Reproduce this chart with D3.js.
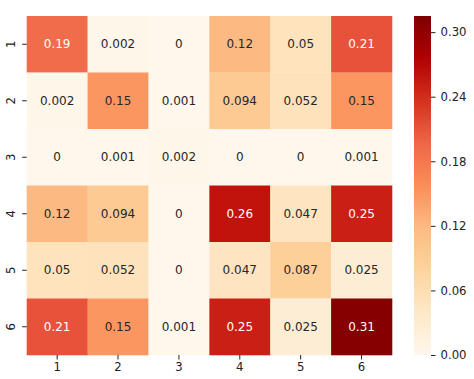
<!DOCTYPE html>
<html>
<head>
<meta charset="utf-8">
<script src="https://cdn.jsdelivr.net/npm/d3@7"></script>
<style>
  html, body { margin: 0; padding: 0; background: #fff; }
  svg { display: block; font-family: "DejaVu Sans", sans-serif; }
</style>
</head>
<body>
<svg id="chart" width="474" height="379"></svg>
<script>
const rowLabels = ["1", "2", "3", "4", "5", "6"];
const colLabels = ["1", "2", "3", "4", "5", "6"];
const row1 = [0.19, 0.002, 0, 0.12, 0.05, 0.21];
const row2 = [0.002, 0.15, 0.001, 0.094, 0.052, 0.15];
const row3 = [0, 0.001, 0.002, 0, 0, 0.001];
const row4 = [0.12, 0.094, 0, 0.26, 0.047, 0.25];
const row5 = [0.05, 0.052, 0, 0.047, 0.087, 0.025];
const row6 = [0.21, 0.15, 0.001, 0.25, 0.025, 0.31];
const labels1 = ["0.19", "0.002", "0", "0.12", "0.05", "0.21"];
const labels2 = ["0.002", "0.15", "0.001", "0.094", "0.052", "0.15"];
const labels3 = ["0", "0.001", "0.002", "0", "0", "0.001"];
const labels4 = ["0.12", "0.094", "0", "0.26", "0.047", "0.25"];
const labels5 = ["0.05", "0.052", "0", "0.047", "0.087", "0.025"];
const labels6 = ["0.21", "0.15", "0.001", "0.25", "0.025", "0.31"];
const colorMin = 0;
const colorMax = 0.315;
const colorbarTicks = [0.00, 0.06, 0.12, 0.18, 0.24, 0.30];
const orrd = ["#fff7ec", "#fee8c8", "#fdd49e", "#fdbb84", "#fc8d59", "#ef6548", "#d7301f", "#b30000", "#7f0000"];

const rows = [row1, row2, row3, row4, row5, row6];
const labelRows = [labels1, labels2, labels3, labels4, labels5, labels6];

const svg = d3.select("#chart");
const pLeft = 26.7, pRight = 392, pTop = 16, pBottom = 355;

const x = d3.scaleBand().domain(colLabels).range([pLeft, pRight]).padding(0);
const y = d3.scaleBand().domain(rowLabels).range([pTop, pBottom]).padding(0);

const cmapT = d3.scaleLinear()
  .domain(orrd.map((_, i) => i / (orrd.length - 1)))
  .range(orrd)
  .interpolate(d3.interpolateRgb)
  .clamp(true);
const norm = d3.scaleLinear().domain([colorMin, colorMax]).range([0, 1]).clamp(true);
const color = v => cmapT(norm(v));

function luminance(c) {
  const rgb = d3.rgb(c);
  const f = v => { v = v / 255; return v <= 0.03928 ? v / 12.92 : Math.pow((v + 0.055) / 1.055, 2.4); };
  return 0.2126 * f(rgb.r) + 0.7152 * f(rgb.g) + 0.0722 * f(rgb.b);
}

const cells = [];
rows.forEach((r, i) => r.forEach((v, j) => cells.push({ r: rowLabels[i], c: colLabels[j], v, t: labelRows[i][j] })));

svg.append("g").selectAll("rect").data(cells).join("rect")
  .attr("x", d => x(d.c))
  .attr("y", d => y(d.r))
  .attr("width", x.bandwidth() + 0.3)
  .attr("height", y.bandwidth() + 0.3)
  .attr("fill", d => color(d.v));

svg.append("g").selectAll("text").data(cells).join("text")
  .attr("x", d => x(d.c) + x.bandwidth() / 2)
  .attr("y", d => y(d.r) + y.bandwidth() / 2)
  .attr("text-anchor", "middle")
  .attr("dominant-baseline", "central")
  .attr("font-size", "12px")
  .attr("fill", d => luminance(color(d.v)) > 0.408 ? "#262626" : "#ffffff")
  .text(d => d.t);

// X axis
const xAxis = svg.append("g").attr("transform", `translate(0,${pBottom})`)
  .call(d3.axisBottom(x).tickSize(4.5).tickPadding(3.5));
xAxis.select(".domain").remove();
xAxis.selectAll("text").attr("font-size", "11.7px").attr("fill", "#222").attr("font-family", "DejaVu Sans");
xAxis.selectAll("line").attr("stroke", "#222").attr("stroke-width", 1);

// Y axis
const yAxis = svg.append("g").attr("transform", `translate(${pLeft},0)`)
  .call(d3.axisLeft(y).tickSize(4.5).tickPadding(0));
yAxis.select(".domain").remove();
yAxis.selectAll("line").attr("stroke", "#222").attr("stroke-width", 1);
yAxis.selectAll("text")
  .attr("font-size", "11.7px").attr("fill", "#222").attr("font-family", "DejaVu Sans")
  .attr("x", null).attr("dy", null)
  .attr("text-anchor", "middle")
  .attr("dominant-baseline", "central")
  .attr("transform", "translate(-16,0) rotate(-90)");

// Colorbar
const cbLeft = 414, cbRight = 431;
const defs = svg.append("defs");
const grad = defs.append("linearGradient").attr("id", "cbgrad")
  .attr("x1", 0).attr("y1", 1).attr("x2", 0).attr("y2", 0);
d3.range(0, 1.0001, 0.02).forEach(t => {
  grad.append("stop").attr("offset", t).attr("stop-color", cmapT(t));
});
svg.append("rect")
  .attr("x", cbLeft).attr("y", pTop)
  .attr("width", cbRight - cbLeft).attr("height", pBottom - pTop)
  .attr("fill", "url(#cbgrad)");

const cbScale = d3.scaleLinear().domain([colorMin, colorMax]).range([pBottom, pTop]);
const cbAxis = svg.append("g").attr("transform", `translate(${cbRight},0)`)
  .call(d3.axisRight(cbScale).tickValues(colorbarTicks).tickFormat(d3.format(".2f")).tickSize(4.5).tickPadding(5));
cbAxis.select(".domain").remove();
cbAxis.selectAll("line").attr("stroke", "#222").attr("stroke-width", 1);
cbAxis.selectAll("text").attr("font-size", "11.7px").attr("fill", "#222").attr("font-family", "DejaVu Sans");
</script>
</body>
</html>
